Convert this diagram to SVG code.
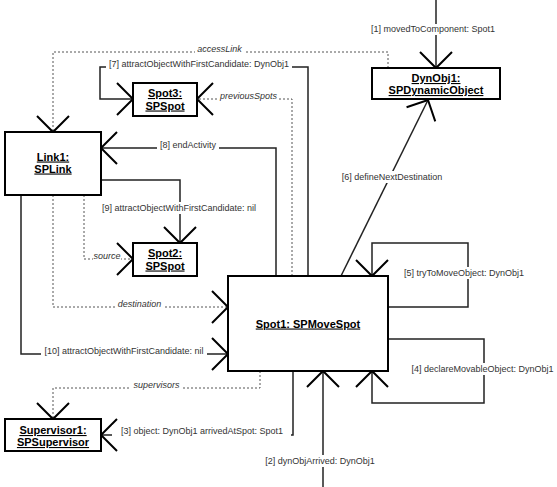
<svg xmlns="http://www.w3.org/2000/svg" width="557" height="487" viewBox="0 0 557 487">
<style>
.node{fill:#fff;stroke:#000;stroke-width:2}
.nt{font-family:"Liberation Sans",Arial,sans-serif;font-size:11px;font-weight:bold;text-decoration:underline;text-anchor:middle;fill:#000}
.c{fill:none;stroke:#222;stroke-width:1.5;marker-end:url(#arr)}
.d{fill:none;stroke:#555;stroke-width:1;stroke-dasharray:2 2;marker-end:url(#arr)}
.lb{font-family:"Liberation Sans",Arial,sans-serif;font-size:9px;text-anchor:middle;fill:#333}
.it{font-style:italic}
.bg{fill:#fff}
</style>
<defs>
<marker id="arr" markerUnits="userSpaceOnUse" viewBox="-20 -20 24 40" refX="0" refY="0" markerWidth="24" markerHeight="40" orient="auto" overflow="visible">
<path d="M-16 -16 L0 0 L-16 16" fill="none" stroke="#000" stroke-width="2"/>
</marker>
</defs>
<rect width="557" height="487" fill="#fff"/>
<g id="connectors">
<path class="c" d="M436 0 V68"/>
<path class="c" d="M323 487 V371"/>
<path class="c" d="M293 371 V435 H101"/>
<path class="c" d="M388 339 H484 V403 H372 V371"/>
<path class="c" d="M388 307 H468 V243 H372 V276"/>
<path class="c" d="M341 276 L428 100"/>
<path class="c" d="M308 276 V67 H100 V99 H133"/>
<path class="c" d="M276 276 V148 H101"/>
<path class="c" d="M101 180 H180 V243"/>
<path class="c" d="M21 195 V354 H228"/>
<path class="d" d="M388 68 V52 H53 V132"/>
<path class="d" d="M292 276 V99 H197"/>
<path class="d" d="M84 195 V259 H133"/>
<path class="d" d="M53 195 V307 H228"/>
<path class="d" d="M260 371 V388 H53 V419"/>
<g id="labels">
<rect class="bg" x="369" y="24" width="128" height="11"/><text class="lb" x="433" y="32">[1] movedToComponent: Spot1</text>
<rect class="bg" x="263" y="455" width="114" height="12"/><text class="lb" x="320" y="464">[2] dynObjArrived: DynObj1</text>
<rect class="bg" x="112" y="425" width="179" height="12"/><text class="lb" x="202" y="434">[3] object: DynObj1 arrivedAtSpot: Spot1</text>
<rect class="bg" x="410" y="363" width="145" height="12"/><text class="lb" x="482.5" y="372">[4] declareMovableObject: DynObj1</text>
<rect class="bg" x="401" y="267" width="126" height="12"/><text class="lb" x="464" y="276">[5] tryToMoveObject: DynObj1</text>
<rect class="bg" x="339" y="171" width="106" height="12"/><text class="lb" x="392" y="180">[6] defineNextDestination</text>
<rect class="bg" x="106" y="58" width="186" height="12"/><text class="lb" x="199" y="67">[7] attractObjectWithFirstCandidate: DynObj1</text>
<rect class="bg" x="157" y="139" width="62" height="12"/><text class="lb" x="188" y="148">[8] endActivity</text>
<rect class="bg" x="98" y="202" width="162" height="12"/><text class="lb" x="179" y="211">[9] attractObjectWithFirstCandidate: nil</text>
<rect class="bg" x="41" y="345" width="166" height="12"/><text class="lb" x="124" y="354">[10] attractObjectWithFirstCandidate: nil</text>
<rect class="bg" x="195" y="43" width="49" height="12"/><text class="lb it" x="219.5" y="52">accessLink</text>
<rect class="bg" x="218" y="90" width="61" height="12"/><text class="lb it" x="248.5" y="99">previousSpots</text>
<rect class="bg" x="93" y="250" width="28" height="12"/><text class="lb it" x="107" y="259">source</text>
<rect class="bg" x="115" y="298" width="49" height="12"/><text class="lb it" x="139.5" y="307">destination</text>
<rect class="bg" x="131" y="379" width="51" height="12"/><text class="lb it" x="156.5" y="388">supervisors</text>
</g>
</g>
<g id="DynObj1">
<rect class="node" x="372" y="68" width="128" height="31"/>
<text class="nt" x="436" y="82">DynObj1:</text>
<text class="nt" x="436" y="94">SPDynamicObject</text>
</g>
<g id="Spot3">
<rect class="node" x="133" y="83" width="64" height="33"/>
<text class="nt" x="165" y="97">Spot3:</text>
<text class="nt" x="165" y="109.5">SPSpot</text>
</g>
<g id="Link1">
<rect class="node" x="5" y="132" width="96" height="63"/>
<text class="nt" x="53" y="160.5">Link1:</text>
<text class="nt" x="53" y="172.5">SPLink</text>
</g>
<g id="Spot2">
<rect class="node" x="133" y="243" width="64" height="33"/>
<text class="nt" x="165" y="257">Spot2:</text>
<text class="nt" x="165" y="269.5">SPSpot</text>
</g>
<g id="Spot1">
<rect class="node" x="228" y="276" width="160" height="95"/>
<text class="nt" x="308" y="327.5">Spot1: SPMoveSpot</text>
</g>
<g id="Supervisor1">
<rect class="node" x="5" y="419" width="96" height="32"/>
<text class="nt" x="53" y="434">Supervisor1:</text>
<text class="nt" x="53" y="446">SPSupervisor</text>
</g>
</svg>
